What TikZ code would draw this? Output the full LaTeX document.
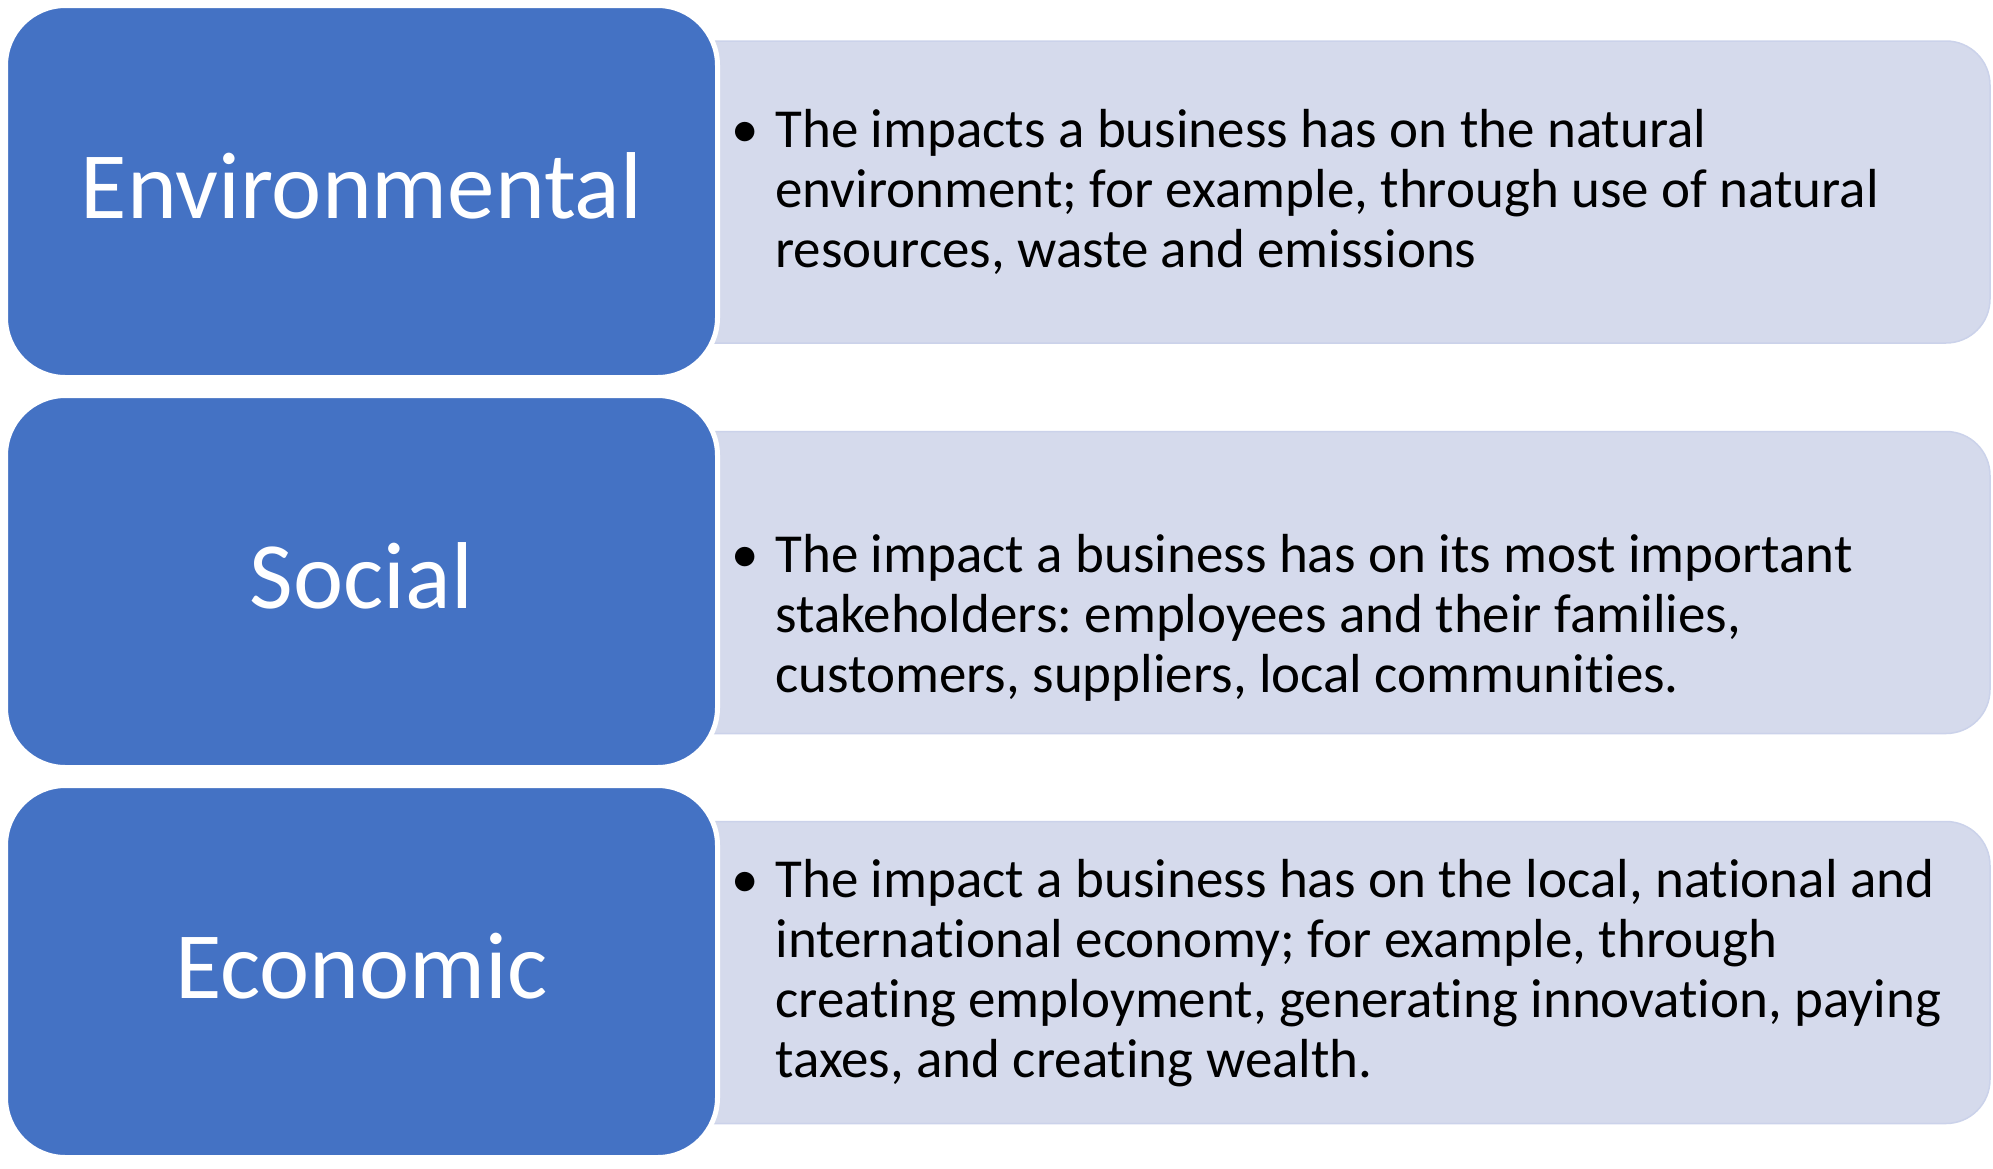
\documentclass[tikz,border=0pt]{standalone}
\usepackage{fontspec}
\setmainfont{Carlito}[Ligatures=NoCommon]
\frenchspacing
\definecolor{boxblue}{HTML}{4472C4}
\definecolor{boxgrey}{HTML}{D5DAEC}
\definecolor{greyedge}{HTML}{CBD2EA}

\begin{document}
\begin{tikzpicture}[x=0.5pt, y=-0.5pt,
	head/.style={rectangle, rounded corners=30pt, fill=boxblue, draw=white, line width=2.5pt, minimum width=356pt, minimum height=186pt, inner sep=0pt, text=white, text height=30.5pt, text depth=4pt, font=\fontsize{47.5}{57}\selectfont},
	desc/.style={rectangle, rounded corners=22pt, fill=boxgrey, draw=greyedge, line width=0.75pt, minimum width=695pt, minimum height=151pt, inner sep=0pt},
	bullets/.style={anchor=west, inner sep=0pt, font=\fontsize{27.5}{30}\selectfont}]
	\useasboundingbox (0,0) rectangle (1993,1168);
	
	\node[desc] (envbox) at (1295,192) {}; % grey boxes first
	\node[desc] (socbox) at (1295,582.5) {};
	\node[desc] (ecobox) at (1295,972.5) {};
	
	\node[head] (env) at (361.5,191.5) {Environmental};
	\node[head] (soc) at (361.5,581.5) {Social};
	\node[head] (eco) at (361.5,971.5) {Economic};
	
	\node[bullets] (envtxt) at (731,195) {\begin{tabular}{@{}p{22pt}@{}l@{}}
		\textbullet & The impacts a business has on the natural\\
		& environment; for example, through use of natural\\
		& resources, waste and emissions\end{tabular}};
	\node[bullets] (soctxt) at (731,620) {\begin{tabular}{@{}p{22pt}@{}l@{}}
		\textbullet & The impact a business has on its most important\\
		& stakeholders: employees and their families,\\
		& customers, suppliers, local communities.\end{tabular}};
	\node[bullets] (ecotxt) at (731,975) {\begin{tabular}{@{}p{22pt}@{}l@{}}
		\textbullet & The impact a business has on the local, national and\\
		& international economy; for example, through\\
		& creating employment, generating innovation, paying\\
		& taxes, and creating wealth.\end{tabular}};
\end{tikzpicture}
\end{document}
